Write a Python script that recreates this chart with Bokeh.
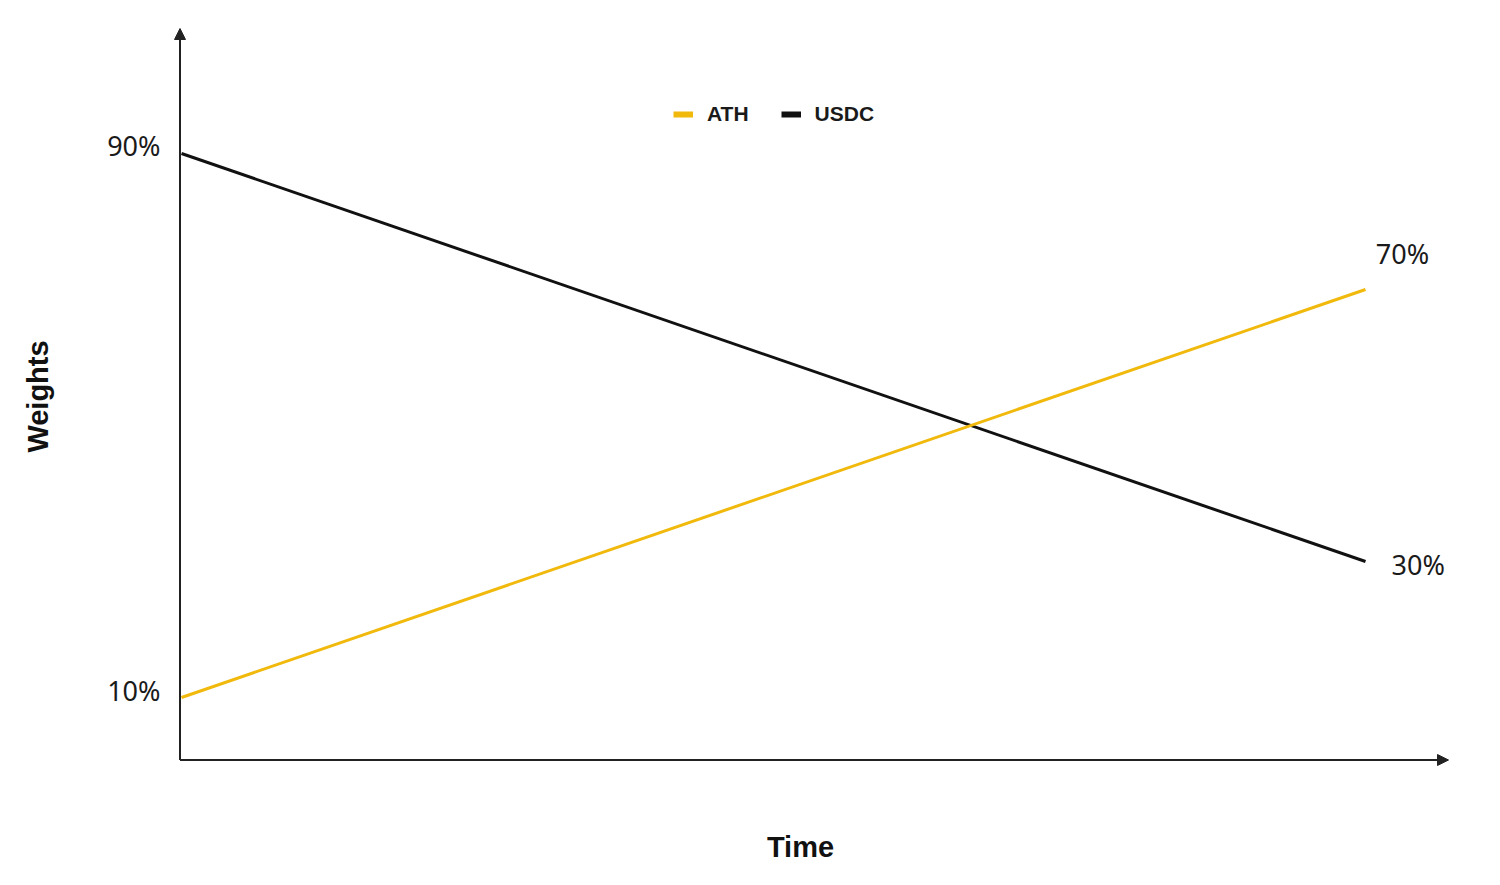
import math
from bokeh.plotting import figure
from bokeh.models import (Range1d, Arrow, NormalHead, Legend, LegendItem,
                          ColumnDataSource)
from bokeh.core.properties import value
from bokeh.embed import file_html
from bokeh.resources import INLINE

# ---- data ----
time = [0, 1]
ath = [10, 70]
usdc = [90, 30]
series_names = ["ATH", "USDC"]
x_title = "Time"
y_title = "Weights"

YELLOW = "#F0B90B"
BLACK = "#111111"
AXIS = "#222222"

W, H = 1484, 869
PAGE = 0  # observed page offset


# scale helpers (page pixel -> data), only for layout of non-data items
def t_of(px):
    return (px - 181) / (1365 - 181)


def v_of(py):
    return 90 - (py - 153) * 80 / (697 - 153)


p = figure(width=W, height=H, output_backend="svg", toolbar_location=None,
           x_range=Range1d(t_of(PAGE), t_of(PAGE + W)),
           y_range=Range1d(v_of(PAGE + H), v_of(PAGE)),
           min_border=0, min_border_left=0, min_border_right=0,
           min_border_top=0, min_border_bottom=0)
p.axis.visible = False
p.grid.visible = False
p.outline_line_color = None
p.background_fill_color = "white"
p.border_fill_color = "white"

# axes with arrow heads
ax_x = t_of(179.5)
ax_y = v_of(759.5)
p.add_layout(Arrow(x_start=ax_x, y_start=ax_y, x_end=ax_x, y_end=v_of(28),
                   line_color=AXIS, line_width=2,
                   end=NormalHead(size=11, fill_color=AXIS, line_color=AXIS, line_width=1)))
p.add_layout(Arrow(x_start=ax_x, y_start=ax_y, x_end=t_of(1448), y_end=ax_y,
                   line_color=AXIS, line_width=2,
                   end=NormalHead(size=11, fill_color=AXIS, line_color=AXIS, line_width=1)))

# series lines
src = ColumnDataSource(dict(t=time, ath=ath, usdc=usdc))
p.line("t", "usdc", source=src, line_color=BLACK, line_width=3)
p.line("t", "ath", source=src, line_color=YELLOW, line_width=3)

# legend (thick swatches)
leg_src = ColumnDataSource(dict(t=[float("nan")], v=[float("nan")]))
r_leg_ath = p.line("t", "v", source=leg_src, line_color=YELLOW, line_width=6)
r_leg_usdc = p.line("t", "v", source=leg_src, line_color=BLACK, line_width=6)
legend = Legend(items=[LegendItem(label=series_names[0], renderers=[r_leg_ath]),
                       LegendItem(label=series_names[1], renderers=[r_leg_usdc])],
                orientation="horizontal", location=(673 - PAGE, H - 124 + PAGE - 2),
                padding=0, margin=0, spacing=32,
                border_line_alpha=0, background_fill_alpha=0,
                glyph_width=20, glyph_height=20, label_height=20,
                label_standoff=14,
                label_text_font="Liberation Sans", label_text_font_style="bold",
                label_text_font_size="21px", label_text_color="#1a1a1a")
p.add_layout(legend)

# value labels
pct_font = value("Noto Sans")
lbl = dict(text_font=pct_font, text_font_size="27px", text_color="#1a1a1a",
           text_baseline="middle")
p.text(x=[time[0]], y=[usdc[0]], text=[f"{usdc[0]}%"], text_align="right",
       x_offset=-21, y_offset=-8, **lbl)
p.text(x=[time[0]], y=[ath[0]], text=[f"{ath[0]}%"], text_align="right",
       x_offset=-21, y_offset=-7, **lbl)
p.text(x=[time[-1]], y=[ath[-1]], text=[f"{ath[-1]}%"], text_align="center",
       x_offset=37, y_offset=-36, **lbl)
p.text(x=[time[-1]], y=[usdc[-1]], text=[f"{usdc[-1]}%"], text_align="left",
       x_offset=26, y_offset=3, **lbl)

# axis titles
title_style = dict(text_font=value("Liberation Sans"), text_font_style="bold",
                   text_font_size="29px", text_color="#111111",
                   text_align="center", text_baseline="middle")
p.text(x=[t_of(800)], y=[v_of(846)], text=[x_title], **title_style)
p.text(x=[t_of(37)], y=[v_of(396)], text=[y_title], angle=math.pi / 2, **title_style)

open("out.html", "w").write(file_html(p, INLINE))
